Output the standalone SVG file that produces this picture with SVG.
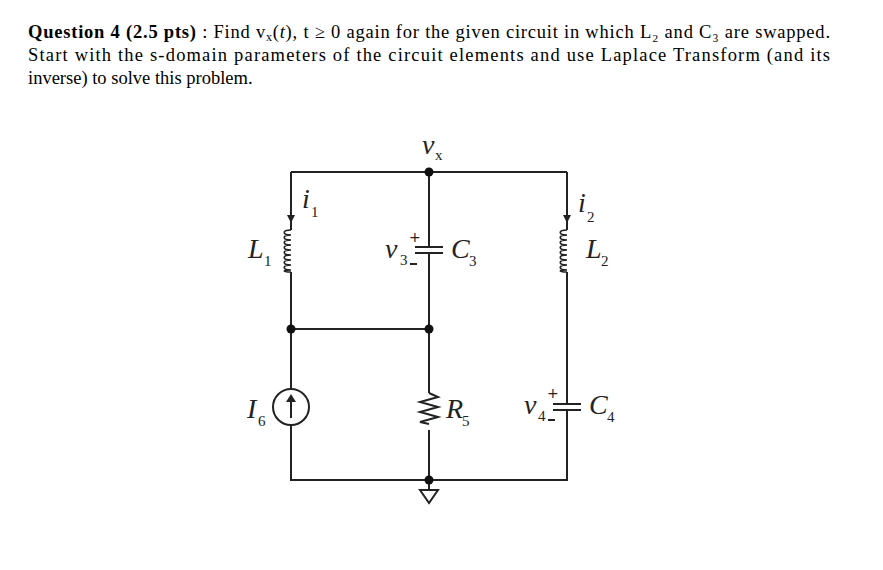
<svg xmlns="http://www.w3.org/2000/svg" width="883" height="570" viewBox="0 0 883 570">
<style>
.t{font-family:"Liberation Serif",serif;font-size:18.5px;fill:#000}
.w{stroke:#222;stroke-width:2;fill:none}
.c{stroke:#222;stroke-width:1.6;fill:none}
.lb{font-family:"Liberation Serif",serif;font-style:italic;font-size:28px;fill:#222}
.sb{font-family:"Liberation Serif",serif;font-size:15px;fill:#222}
.pm{font-family:"DejaVu Sans",sans-serif;font-size:14px;fill:#222}
</style>
<defs><marker id="ar" markerWidth="8" markerHeight="8" refX="7" refY="4" orient="auto" markerUnits="userSpaceOnUse"><path d="M0,0 L8,4 L0,8z" fill="#222"/></marker></defs>
<rect width="883" height="570" fill="#fff"/>
<text class="t" x="28" y="38" textLength="802" lengthAdjust="spacing"><tspan font-weight="bold">Question 4 (2.5 pts)</tspan> : Find v<tspan font-size="12" dy="3">x</tspan><tspan dy="-3">(</tspan><tspan font-style="italic">t</tspan>), t ≥ 0 again for the given circuit in which L₂ and C₃ are swapped.</text>
<text class="t" x="28" y="61" textLength="802" lengthAdjust="spacing">Start with the s-domain parameters of the circuit elements and use Laplace Transform (and its</text>
<text class="t" x="28" y="84">inverse) to solve this problem.</text>
<g id="connectors">
<path class="w" d="M291,172 H567 M429,172 V247 M429,252 V393 M429,430 V480 M291,172 V230 M291,272 V389 M291,425 V480 H567 V409 M567,404 V272 M567,230 V172 M291,329 H429 M429,480 V490"/>
<path class="w" d="M291,190 V222" marker-end="url(#ar)"/>
<path class="w" d="M567,190 V222" marker-end="url(#ar)"/>
</g>
<g id="vx"><circle cx="429" cy="172" r="4.5" fill="#111"/><text class="lb" x="422" y="154">v</text><text class="sb" x="435" y="160">x</text></g>
<g id="n2"><circle cx="291" cy="329" r="4.5" fill="#111"/></g>
<g id="n3"><circle cx="429" cy="329" r="4.5" fill="#111"/></g>
<g id="gnd"><circle cx="429" cy="480" r="4.5" fill="#111"/><path class="w" d="M420,490 H438 L429,503z"/></g>
<g id="L1"><path class="c" d="M291,230 c-9,0 -9,5 0,5 c-9,0 -9,5 0,5 c-9,0 -9,5 0,5 c-9,0 -9,5 0,5 c-9,0 -9,5 0,5 c-9,0 -9,5 0,5 c-9,0 -9,5 0,5 c-9,0 -9,5 0,5 c-9,0 -9,2 0,2"/><text class="lb" x="248" y="258">L</text><text class="sb" x="264" y="266">1</text><text class="lb" x="302" y="208">i</text><text class="sb" x="311" y="217">1</text></g>
<g id="L2"><path class="c" d="M567,230 c-9,0 -9,5 0,5 c-9,0 -9,5 0,5 c-9,0 -9,5 0,5 c-9,0 -9,5 0,5 c-9,0 -9,5 0,5 c-9,0 -9,5 0,5 c-9,0 -9,5 0,5 c-9,0 -9,5 0,5 c-9,0 -9,2 0,2"/><text class="lb" x="586" y="258">L</text><text class="sb" x="601" y="266">2</text><text class="lb" x="578" y="212">i</text><text class="sb" x="587" y="222">2</text></g>
<g id="C3"><path class="w" d="M415,247 H443 M415,253 H443 M410,264 H417"/><text class="pm" x="409" y="242">+</text><text class="lb" x="385" y="258">v</text><text class="sb" x="400" y="265">3</text><text class="lb" x="451" y="258">C</text><text class="sb" x="469" y="266">3</text></g>
<g id="I6"><circle class="w" cx="291" cy="407" r="18"/><path class="w" d="M291,418 V398"/><path d="M286,402 L291,394 L296,402z" fill="#222"/><text class="lb" x="247" y="418">I</text><text class="sb" x="258" y="426">6</text></g>
<g id="R5"><path class="w" d="M429,393 l9,4 -18,5 18,5 -18,5 18,5 -18,5 9,2"/><text class="lb" x="446" y="418">R</text><text class="sb" x="462" y="426">5</text></g>
<g id="C4"><path class="w" d="M553,404 H581 M553,410 H581 M548,420 H555"/><text class="pm" x="547" y="398">+</text><text class="lb" x="524" y="414">v</text><text class="sb" x="538" y="421">4</text><text class="lb" x="589" y="414">C</text><text class="sb" x="607" y="422">4</text></g>
</svg>
